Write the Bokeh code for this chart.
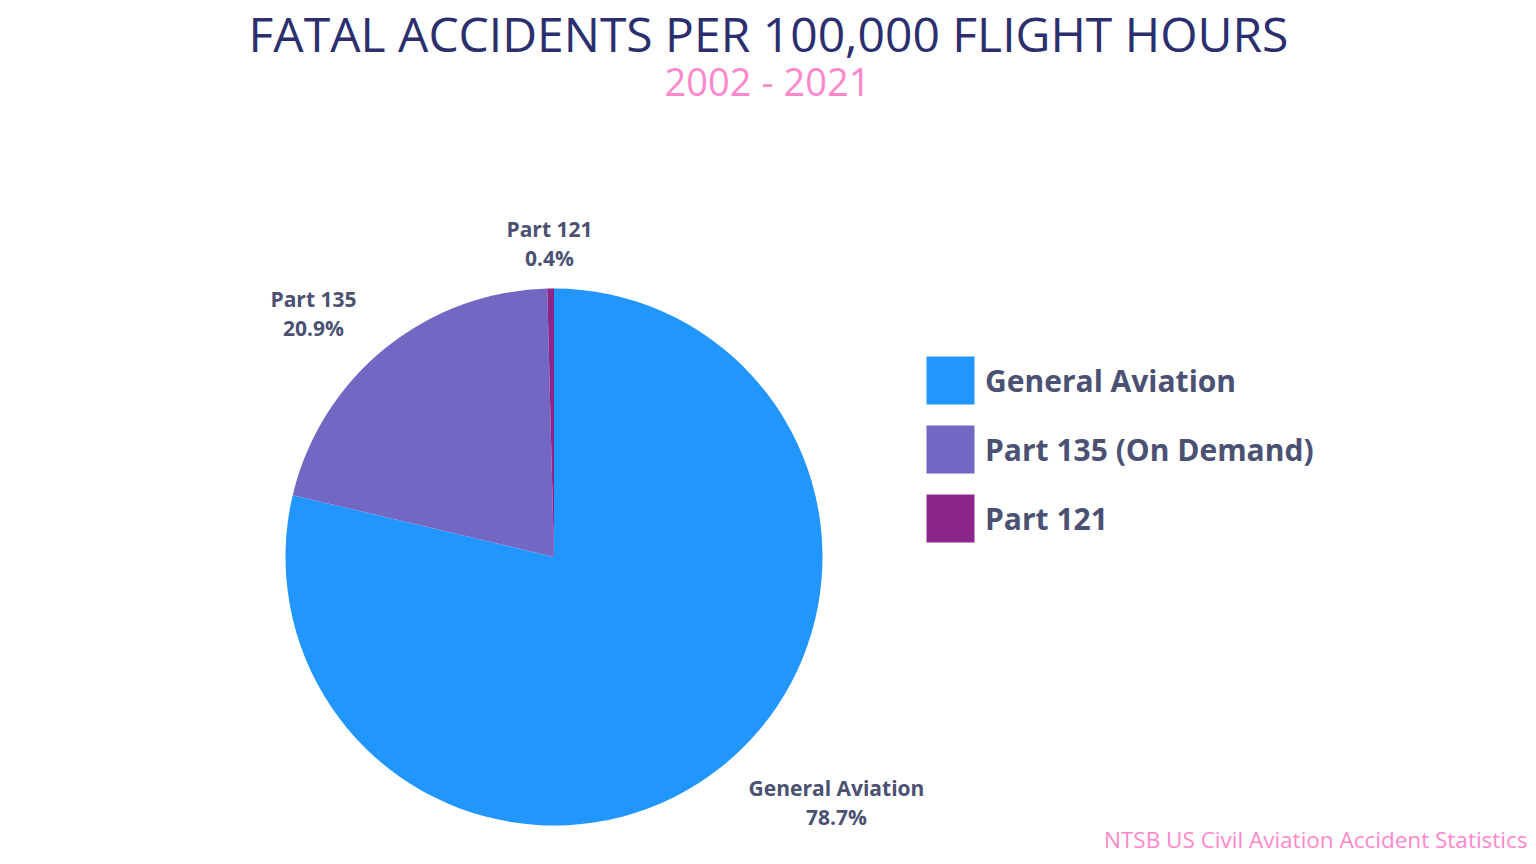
import math
from bokeh.plotting import figure
from bokeh.models import ColumnDataSource, Range1d, Label
from bokeh.core.properties import value
from bokeh.embed import file_html
from bokeh.resources import INLINE

# ---- data ----
categories = ["General Aviation", "Part 135 (On Demand)", "Part 121"]
short_names = ["General Aviation", "Part 135", "Part 121"]
shares = [78.7, 20.9, 0.4]
colors = ["#2196FF", "#7367C4", "#8B2589"]

title_text = "FATAL ACCIDENTS PER 100,000 FLIGHT HOURS"
subtitle_text = "2002 - 2021"
source_text = "NTSB US Civil Aviation Accident Statistics"

# ---- layout ----
W, H = 1528, 856
CX, CY, R = 553.5, H - 556.5, 268.5
label_xy = [(836, H - 787), (313, H - 298), (549, H - 228)]  # name line centre per slice
LINE_GAP = 29
LABEL_COLOR = "#4B5173"
FONT = "Open Sans"

p = figure(width=W, height=H, output_backend="svg", toolbar_location=None,
           x_range=Range1d(0, W), y_range=Range1d(0, H), min_border=0,
           background_fill_color="white", border_fill_color="white")
p.axis.visible = False
p.grid.visible = False
p.outline_line_color = None

total = sum(shares)
starts, ends = [], []
cum = 0.0
for s in shares:
    a0 = cum / total
    cum += s
    a1 = cum / total
    # clockwise from 12 o'clock
    starts.append(math.pi / 2 - 2 * math.pi * a1)
    ends.append(math.pi / 2 - 2 * math.pi * a0)

src = ColumnDataSource(dict(name=categories, start=starts, end=ends, color=colors))
p.wedge(x=CX, y=CY, radius=R, start_angle="start", end_angle="end",
        fill_color="color", line_color=None, source=src, legend_field="name")

# slice labels
lab_src = ColumnDataSource(dict(
    x=[xy[0] for xy in label_xy],
    y1=[xy[1] for xy in label_xy],
    y2=[xy[1] - LINE_GAP for xy in label_xy],
    name=short_names,
    pct=[f"{s:.1f}%" for s in shares],
))
for ycol, tcol in (("y1", "name"), ("y2", "pct")):
    p.text(x="x", y=ycol, text=tcol, source=lab_src, text_align="center",
           text_baseline="middle", text_font=value(FONT), text_font_style="bold",
           text_font_size="21px", text_color=LABEL_COLOR)

# titles
p.add_layout(Label(x=768, y=H - 33, x_units="screen", y_units="screen", text=title_text,
                   text_align="center", text_baseline="middle", text_font=FONT,
                   text_font_size="48px", text_color="#2B2F6E"))
p.add_layout(Label(x=767, y=H - 80, x_units="screen", y_units="screen", text=subtitle_text,
                   text_align="center", text_baseline="middle", text_font=FONT,
                   text_font_size="38px", text_color="#FF88CC"))
p.add_layout(Label(x=1527, y=H - 839, x_units="screen", y_units="screen", text=source_text,
                   text_align="right", text_baseline="middle", text_font=FONT,
                   text_font_size="22.5px", text_color="#FF88CC"))

leg = p.legend[0]
leg.location = (920, H - 548)
leg.padding = 0
leg.margin = 0
leg.spacing = 9
leg.glyph_width = 60
leg.glyph_height = 60
leg.label_standoff = 5
leg.label_text_font = FONT
leg.label_text_font_style = "bold"
leg.label_text_font_size = "30px"
leg.label_text_color = LABEL_COLOR
leg.border_line_color = None
leg.background_fill_alpha = 0

open("out.html", "w").write(file_html(p, INLINE))
